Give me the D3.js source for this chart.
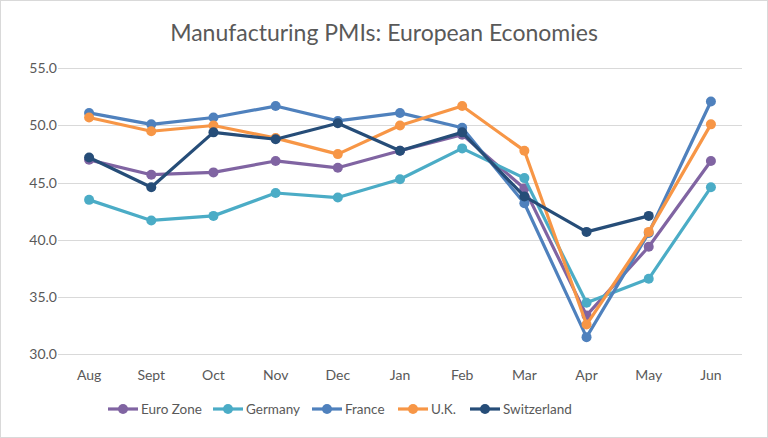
<!DOCTYPE html>
<html><head><meta charset="utf-8">
<script src="https://cdn.jsdelivr.net/npm/d3@7"></script>
<style>body{margin:0;background:#fff}svg{display:block}</style>
</head><body>
<script>
const categories = ["Aug","Sept","Oct","Nov","Dec","Jan","Feb","Mar","Apr","May","Jun"];
const euroZone    = [47.0,45.7,45.9,46.9,46.3,47.8,49.2,44.5,33.4,39.4,46.9];
const germany     = [43.5,41.7,42.1,44.1,43.7,45.3,48.0,45.4,34.5,36.6,44.6];
const france      = [51.1,50.1,50.7,51.7,50.4,51.1,49.8,43.2,31.5,40.6,52.1];
const uk          = [50.7,49.5,50.0,48.9,47.5,50.0,51.7,47.8,32.6,40.7,50.1];
const switzerland = [47.2,44.6,49.4,48.8,50.2,47.8,49.4,43.8,40.7,42.1,null];
const yTicks = [30,35,40,45,50,55];
const seriesNames = ["Euro Zone","Germany","France","U.K.","Switzerland"];
const seriesColors = ["#8064A2","#4BACC6","#4F81BD","#F79646","#264D78"];
const seriesData = [euroZone, germany, france, uk, switzerland];

const W = 768, H = 438;
const svg = d3.select("body").append("svg").attr("width", W).attr("height", H);
svg.append("rect").attr("x",0.5).attr("y",0.5).attr("width",W-1).attr("height",H-1)
  .attr("fill","#fff").attr("stroke","#d9d9d9");

const font = "Lato, 'Open Sans', sans-serif";
svg.append("text").attr("x", 384).attr("y", 41).attr("text-anchor","middle")
  .attr("font-family", font).attr("font-size", 23).attr("fill","#595959")
  .text("Manufacturing PMIs: European Economies");

const x = d3.scaleBand().domain(categories).range([58, 742]);
const y = d3.scaleLinear().domain([30,55]).range([354.3, 68.3]);

// gridlines
svg.append("g").selectAll("line").data(yTicks).join("line")
  .attr("x1", 58).attr("x2", 742)
  .attr("y1", d => Math.round(y(d))+0.5).attr("y2", d => Math.round(y(d))+0.5)
  .attr("stroke","#d9d9d9").attr("stroke-width",1);

// y axis labels
const yAxis = d3.axisLeft(y).tickValues(yTicks).tickFormat(d3.format(".1f")).tickSize(0).tickPadding(0);
const gy = svg.append("g").attr("transform","translate(57,0)").call(yAxis);
gy.select(".domain").remove();
gy.selectAll("text").attr("font-family", font).attr("font-size", 14).attr("fill","#595959");

// x axis labels
const xAxis = d3.axisBottom(x).tickSize(0).tickPadding(0);
const gx = svg.append("g").attr("transform","translate(0,370)").call(xAxis);
gx.select(".domain").remove();
gx.selectAll("text").attr("font-family", font).attr("font-size", 14).attr("fill","#595959");

const cx = c => x(c) + x.bandwidth()/2;
const line = d3.line().defined(d => d.v != null).x(d => cx(d.c)).y(d => y(d.v));

seriesData.forEach((arr, i) => {
  const pts = categories.map((c, j) => ({c, v: arr[j]}));
  const g = svg.append("g");
  g.append("path").datum(pts).attr("d", line).attr("fill","none")
    .attr("stroke", seriesColors[i]).attr("stroke-width", 3.2).attr("stroke-linejoin","round");
  g.selectAll("circle").data(pts.filter(d => d.v != null)).join("circle")
    .attr("cx", d => cx(d.c)).attr("cy", d => y(d.v)).attr("r", 5)
    .attr("fill", seriesColors[i]);
});

// legend
const legendX = [108, 213, 312, 398, 470];
const lg = svg.append("g");
seriesNames.forEach((n, i) => {
  const gx0 = legendX[i];
  const g = lg.append("g");
  g.append("line").attr("x1", gx0).attr("x2", gx0+30).attr("y1", 409).attr("y2", 409)
    .attr("stroke", seriesColors[i]).attr("stroke-width", 3.2);
  g.append("circle").attr("cx", gx0+15).attr("cy", 409).attr("r", 5).attr("fill", seriesColors[i]);
  g.append("text").attr("x", gx0+33).attr("y", 413.5).attr("font-family", font)
    .attr("font-size", 13.5).attr("fill","#595959").text(n);
});
</script>
</body></html>
